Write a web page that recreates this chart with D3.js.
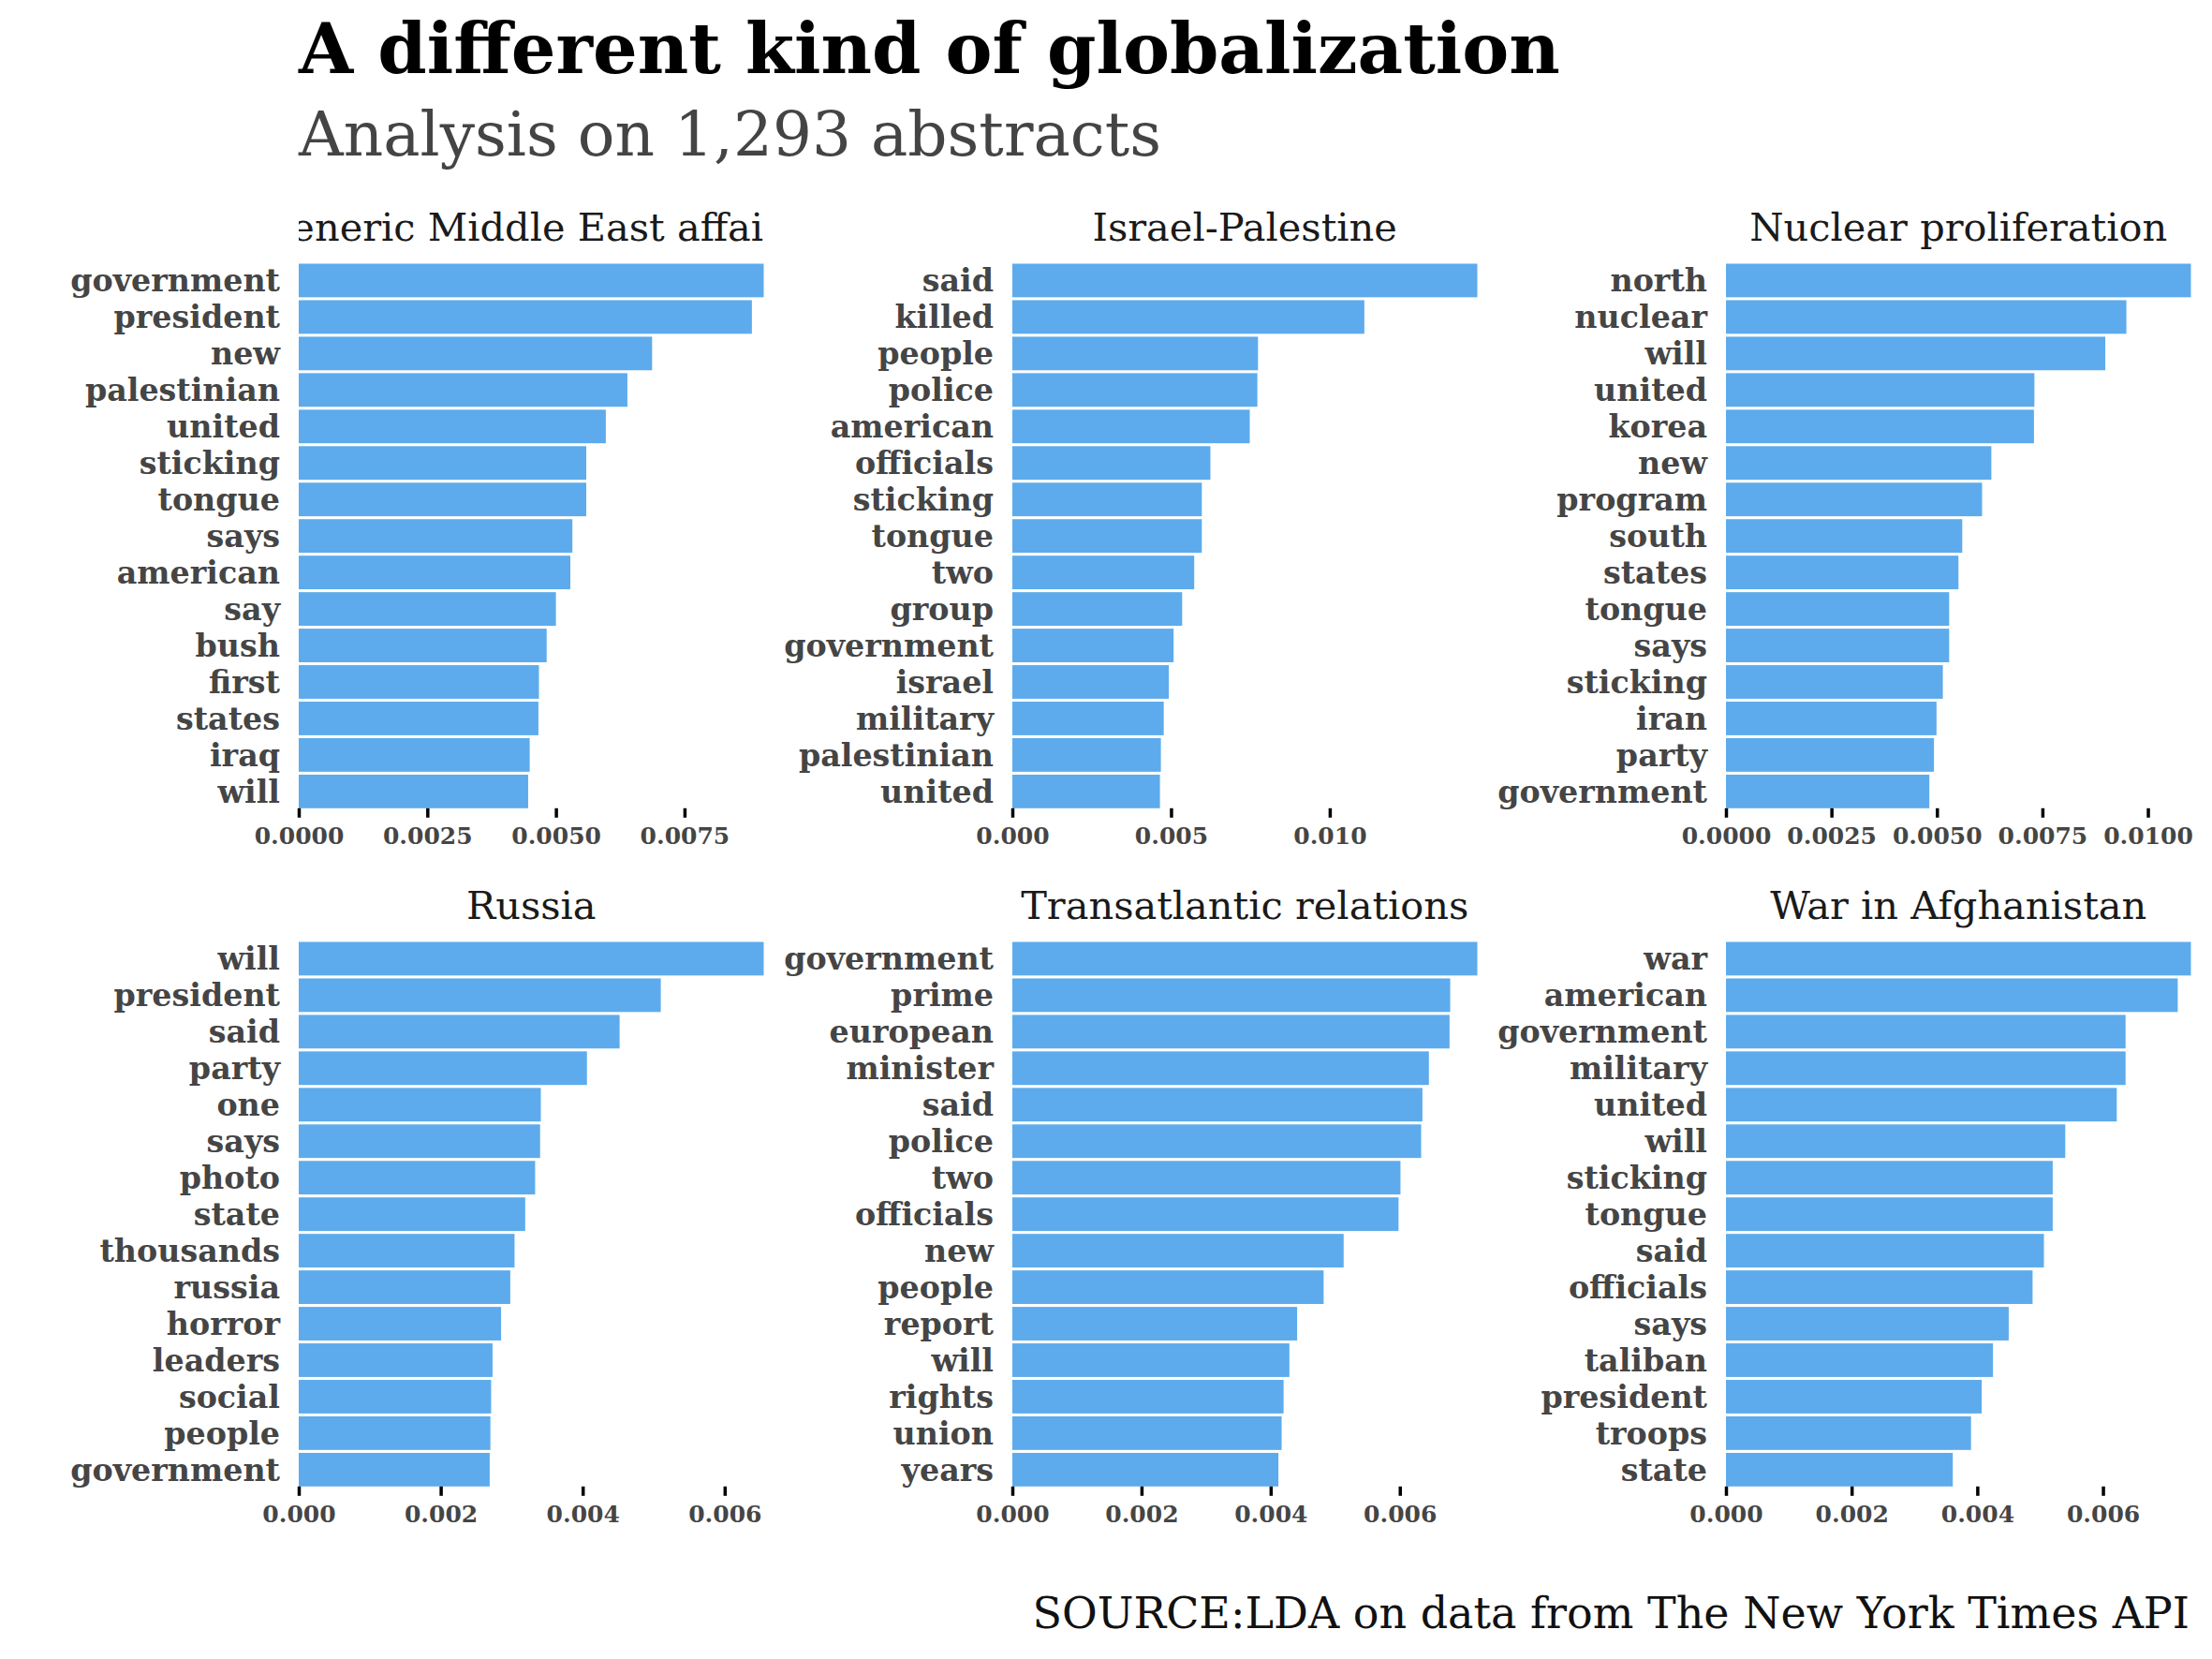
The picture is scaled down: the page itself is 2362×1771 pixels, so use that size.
<!DOCTYPE html>
<html>
<head>
<meta charset="utf-8">
<script src="https://cdn.jsdelivr.net/npm/d3@7/dist/d3.min.js"></script>
<style>
  html, body { margin: 0; padding: 0; background: #fff; }
  svg { display: block; }
</style>
</head>
<body>
<svg id="chart" width="2362" height="1771"></svg>
<script>
// ---------- data ----------
const topicTitles = ["Generic Middle East affairs", "Israel-Palestine", "Nuclear proliferation",
                     "Russia", "Transatlantic relations", "War in Afghanistan"];

const wordsMiddleEast = ["government","president","new","palestinian","united","sticking","tongue","says","american","say","bush","first","states","iraq","will"];
const valuesMiddleEast = [0.00904,0.00881,0.00687,0.00639,0.00597,0.00559,0.00559,0.00532,0.00528,0.00500,0.00482,0.00467,0.00466,0.00449,0.00446];

const wordsIsrael = ["said","killed","people","police","american","officials","sticking","tongue","two","group","government","israel","military","palestinian","united"];
const valuesIsrael = [0.01465,0.01109,0.00774,0.00772,0.00748,0.00624,0.00597,0.00597,0.00573,0.00535,0.00508,0.00493,0.00477,0.00468,0.00465];

const wordsNuclear = ["north","nuclear","will","united","korea","new","program","south","states","tongue","says","sticking","iran","party","government"];
const valuesNuclear = [0.01102,0.00949,0.00899,0.00731,0.00730,0.00629,0.00607,0.00560,0.00551,0.00529,0.00529,0.00514,0.00499,0.00493,0.00482];

const wordsRussia = ["will","president","said","party","one","says","photo","state","thousands","russia","horror","leaders","social","people","government"];
const valuesRussia = [0.00655,0.00510,0.00452,0.00406,0.00341,0.00340,0.00333,0.00319,0.00304,0.00298,0.00285,0.00273,0.00271,0.00270,0.00269];

const wordsTransatlantic = ["government","prime","european","minister","said","police","two","officials","new","people","report","will","rights","union","years"];
const valuesTransatlantic = [0.00720,0.00678,0.00677,0.00645,0.00635,0.00633,0.00601,0.00598,0.00513,0.00482,0.00441,0.00429,0.00420,0.00417,0.00412];

const wordsAfghanistan = ["war","american","government","military","united","will","sticking","tongue","said","officials","says","taliban","president","troops","state"];
const valuesAfghanistan = [0.00740,0.00719,0.00636,0.00636,0.00622,0.00540,0.00520,0.00520,0.00506,0.00488,0.00450,0.00425,0.00407,0.00390,0.00361];

const ticks4 = [0, 0.0025, 0.005, 0.0075];
const ticksIsrael = [0, 0.005, 0.010];
const ticksNuclear = [0, 0.0025, 0.005, 0.0075, 0.010];
const ticks3 = [0, 0.002, 0.004, 0.006];

const tickFormats = [".4f", ".3f", ".4f", ".3f", ".3f", ".3f"];

const titleText = "A different kind of globalization";
const subtitleText = "Analysis on 1,293 abstracts";
const sourceText = "SOURCE:LDA on data from The New York Times API";

// ---------- layout ----------
const panels = [
  {title: topicTitles[0], words: wordsMiddleEast, values: valuesMiddleEast, ticks: ticks4},
  {title: topicTitles[1], words: wordsIsrael, values: valuesIsrael, ticks: ticksIsrael},
  {title: topicTitles[2], words: wordsNuclear, values: valuesNuclear, ticks: ticksNuclear},
  {title: topicTitles[3], words: wordsRussia, values: valuesRussia, ticks: ticks3},
  {title: topicTitles[4], words: wordsTransatlantic, values: valuesTransatlantic, ticks: ticks3},
  {title: topicTitles[5], words: wordsAfghanistan, values: valuesAfghanistan, ticks: ticks3}
];

const colLeft = [319, 1081, 1843];
const rowTop = [281.5, 1005.5];
const panelW = 496.5;
const panelH = 581.3;

const serif = "'DejaVu Serif', serif";
const barColor = "#5dabec";
const labelColor = "#454545";

const svg = d3.select("#chart");

svg.append("text")
  .attr("x", 319).attr("y", 78)
  .attr("font-family", serif).attr("font-weight", "bold")
  .attr("font-size", 75).attr("fill", "#000")
  .text(titleText);

svg.append("text")
  .attr("x", 319).attr("y", 166)
  .attr("font-family", serif)
  .attr("font-size", 66).attr("fill", "#444")
  .text(subtitleText);

svg.append("text")
  .attr("x", 2338).attr("y", 1738)
  .attr("text-anchor", "end")
  .attr("font-family", serif)
  .attr("font-size", 46).attr("fill", "#111")
  .text(sourceText);

const defs = svg.append("defs");

panels.forEach((p, i) => {
  const col = i % 3, row = Math.floor(i / 3);
  const x0 = colLeft[col], y0 = rowTop[row];
  const g = svg.append("g").attr("transform", `translate(${x0},${y0})`);

  const x = d3.scaleLinear().domain([0, d3.max(p.values)]).range([0, panelW]);
  const y = d3.scaleBand().domain(p.words).range([0, panelH]).paddingInner(0.08).paddingOuter(0);

  // clip for title (title is clipped to axes width)
  const cid = "clip" + i;
  defs.append("clipPath").attr("id", cid)
    .append("rect").attr("x", x0).attr("y", y0 - 80).attr("width", panelW).attr("height", 80);

  svg.append("g").attr("clip-path", `url(#${cid})`)
    .append("text")
    .attr("x", x0 + panelW / 2).attr("y", y0 - 24.5)
    .attr("text-anchor", "middle")
    .attr("font-family", serif).attr("font-size", 41.5).attr("fill", "#1a1a1a")
    .text(p.title);

  g.selectAll("rect.bar").data(p.words).join("rect")
    .attr("class", "bar")
    .attr("x", 0)
    .attr("y", d => y(d))
    .attr("width", (d, j) => x(p.values[j]))
    .attr("height", y.bandwidth())
    .attr("fill", barColor);

  // y labels
  g.selectAll("text.ylab").data(p.words).join("text")
    .attr("class", "ylab")
    .attr("x", -20)
    .attr("y", d => y(d) + y.bandwidth() / 2)
    .attr("dy", "0.36em")
    .attr("text-anchor", "end")
    .attr("font-family", serif).attr("font-weight", "bold")
    .attr("font-size", 33.3).attr("fill", labelColor)
    .text(d => d);

  // x axis
  const ax = g.append("g").attr("transform", `translate(0,${panelH})`)
    .call(d3.axisBottom(x).tickValues(p.ticks).tickFormat(d3.format(tickFormats[i])).tickSize(10).tickPadding(0));
  ax.select(".domain").remove();
  ax.selectAll(".tick line").attr("stroke", "#000").attr("stroke-width", 3.5);
  ax.selectAll(".tick text")
    .attr("y", 38.5).attr("dy", 0)
    .attr("font-family", serif).attr("font-weight", "bold")
    .attr("font-size", 25).attr("fill", labelColor);
});
</script>
</body>
</html>
